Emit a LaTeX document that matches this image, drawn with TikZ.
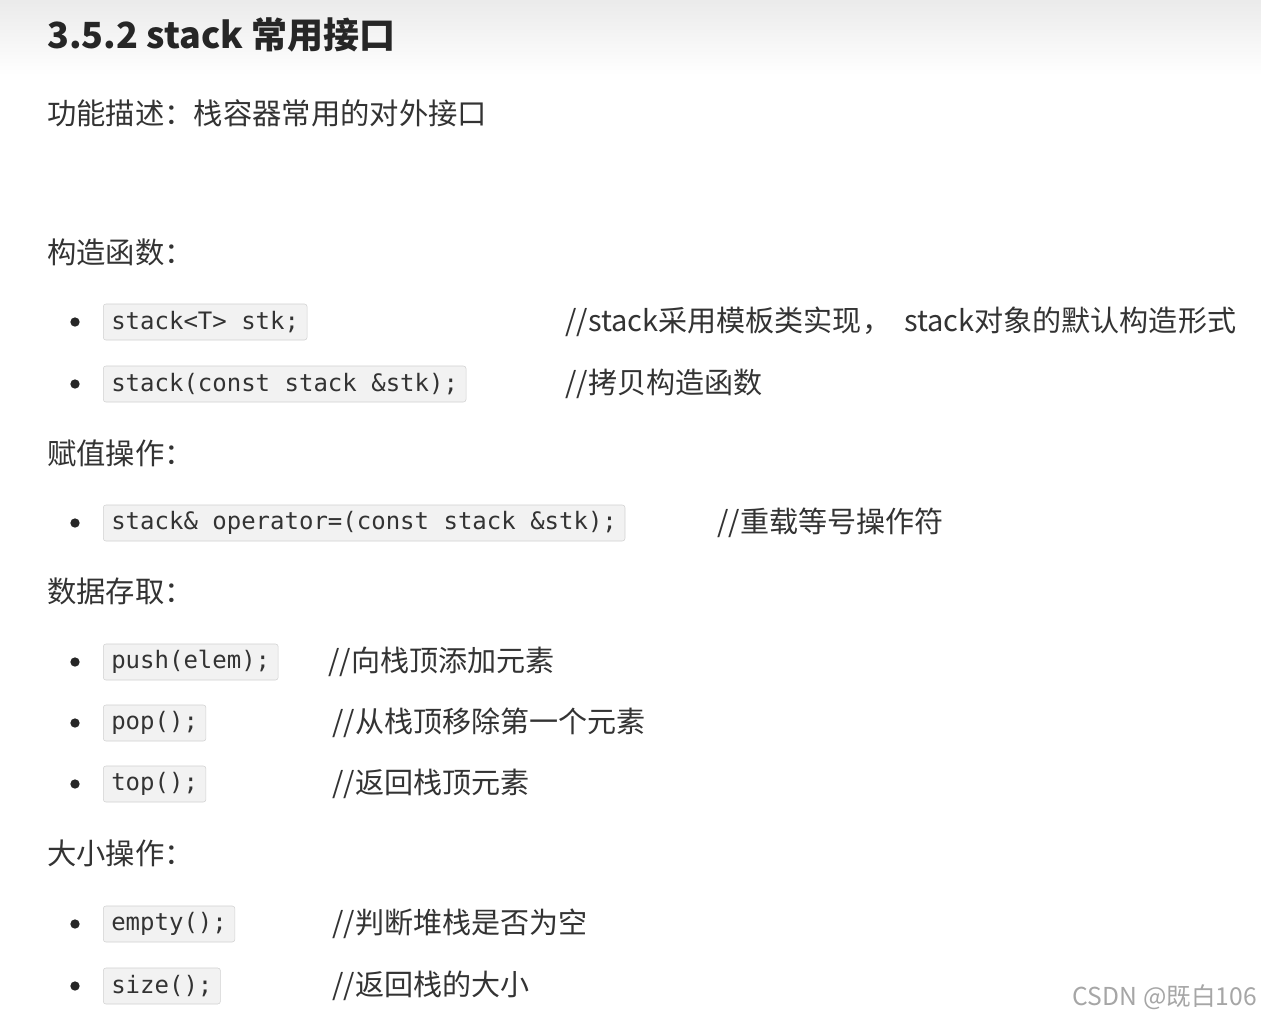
\documentclass[tikz,border=0pt]{standalone}
\usepackage{fontspec}
\setmainfont{Noto Sans CJK SC}
\setmonofont{DejaVu Sans Mono}
\newfontfamily\cjk{Noto Sans CJK SC}
\begin{document}
\begin{tikzpicture}[x=0.75pt,y=-0.75pt,
  txt/.style={anchor=west,inner sep=0pt,font=\cjk\fontsize{22pt}{24pt}\selectfont,text=black!80},
  cmt/.style={anchor=west,inner sep=0pt,font=\cjk\fontsize{21.8pt}{24pt}\selectfont,text=black!80},
  code/.style={anchor=west,draw=black!18,fill=black!5,rounded corners=2pt,inner xsep=6pt,minimum height=27pt,font=\ttfamily\fontsize{18pt}{20pt}\selectfont,text=black!80},
  bul/.style={circle,fill=black!85,inner sep=0pt,minimum size=7pt}]
\useasboundingbox (0,0) rectangle (1261,1018);
\fill[white] (0,0) rectangle (1261,1018);
\shade[top color=black!8,bottom color=white] (0,0) rectangle (1261,75);
\node[anchor=west,inner sep=0pt,font=\cjk\bfseries\fontsize{27pt}{30pt}\selectfont,text=black!85] (title) at (47,35) {3.5.2 stack 常用接口};
\node[txt] (d) at (47,113) {功能描述：栈容器常用的对外接口};
\node[txt] (h1) at (47,252) {构造函数：};
\node[bul] (b1) at (75,322) {}; \node[code] (c1) at (103,322) {stack<T> stk;};
\node[cmt] (m1) at (565,322) {//stack采用模板类实现，\ \ stack对象的默认构造形式};
\node[bul] (b2) at (75,384) {}; \node[code] (c2) at (103,384) {stack(const stack \&stk);};
\node[cmt] (m2) at (565,384) {//拷贝构造函数};
\node[txt] (h2) at (47,453) {赋值操作：};
\node[bul] (b3) at (75,523) {}; \node[code] (c3) at (103,523) {stack\& operator=(const stack \&stk);};
\node[cmt] (m3) at (717,523) {//重载等号操作符};
\node[txt] (h3) at (47,591) {数据存取：};
\node[bul] (b4) at (75,662) {}; \node[code] (c4) at (103,662) {push(elem);};
\node[cmt] (m4) at (328,662) {//向栈顶添加元素};
\node[bul] (b5) at (75,723) {}; \node[code] (c5) at (103,723) {pop();};
\node[cmt] (m5) at (332,723) {//从栈顶移除第一个元素};
\node[bul] (b6) at (75,784) {}; \node[code] (c6) at (103,784) {top();};
\node[cmt] (m6) at (332,784) {//返回栈顶元素};
\node[txt] (h4) at (47,853) {大小操作：};
\node[bul] (b7) at (75,924) {}; \node[code] (c7) at (103,924) {empty();};
\node[cmt] (m7) at (332,924) {//判断堆栈是否为空};
\node[bul] (b8) at (75,986) {}; \node[code] (c8) at (103,986) {size();};
\node[cmt] (m8) at (332,986) {//返回栈的大小};
\node[anchor=east,inner sep=0pt,font=\cjk\fontsize{18.5pt}{20pt}\selectfont,text=black!35] (wm) at (1257,997) {CSDN @既白106};
\end{tikzpicture}
\end{document}
